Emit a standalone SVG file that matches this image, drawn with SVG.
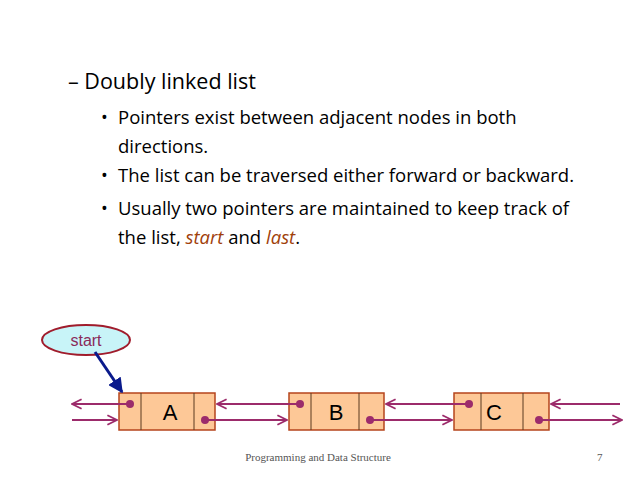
<svg xmlns="http://www.w3.org/2000/svg" width="638" height="478" viewBox="0 0 638 478">
<style>
.t{font-family:"Open Sans","Liberation Sans",sans-serif;fill:#000}
.b{font-size:18.5px}
.box{fill:#fdc897;stroke:#b5441c;stroke-width:1.5}
.div{stroke:#5a3a20;stroke-width:1}
.ln{stroke:#9c2b6b;stroke-width:2;fill:none}
.lbl{font-family:"Liberation Sans",Arial,sans-serif;font-size:22px;text-anchor:middle}
</style>
<defs>
<marker id="oa" viewBox="0 0 10 10" refX="9" refY="5" markerWidth="6" markerHeight="6" orient="auto-start-reverse"><path d="M1,1 L9,5 L1,9" fill="none" stroke="#9c2b6b" stroke-width="1.5"/></marker>
<marker id="dot" viewBox="0 0 10 10" refX="5" refY="5" markerWidth="4" markerHeight="4"><circle cx="5" cy="5" r="5" fill="#9c2b6b"/></marker>
<marker id="ba" viewBox="0 0 10 10" refX="9" refY="5" markerWidth="5" markerHeight="5" orient="auto"><path d="M0,0 L10,5 L0,10z" fill="#0a1a8c"/></marker>
</defs>
<text class="t" x="68" y="89" font-size="21.5">– Doubly linked list</text>
<g class="t b">
<text x="101" y="124" font-size="18">•</text><text x="118" y="124">Pointers exist between adjacent nodes in both</text>
<text x="118" y="153">directions.</text>
<text x="101" y="182" font-size="18">•</text><text x="118" y="182">The list can be traversed either forward or backward.</text>
<text x="101" y="215" font-size="18">•</text><text x="118" y="215">Usually two pointers are maintained to keep track of</text>
<text x="118" y="244">the list, <tspan fill="#a0400a" font-style="italic">start</tspan> and <tspan fill="#a0400a" font-style="italic">last</tspan>.</text>
</g>
<g id="start"><ellipse cx="86" cy="340" rx="44" ry="15" fill="#c8f4f8" stroke="#a01c2c" stroke-width="2"/><text x="86" y="346" font-family="Liberation Sans,sans-serif" font-size="16" fill="#8a2a5a" text-anchor="middle">start</text></g>
<g id="nodeA"><rect class="box" x="119" y="393" width="96" height="37"/><line class="div" x1="141" y1="393" x2="141" y2="430"/><line class="div" x1="194" y1="393" x2="194" y2="430"/><text class="lbl" x="170" y="420">A</text></g>
<g id="nodeB"><rect class="box" x="289" y="393" width="95" height="37"/><line class="div" x1="311" y1="393" x2="311" y2="430"/><line class="div" x1="359" y1="393" x2="359" y2="430"/><text class="lbl" x="336" y="420">B</text></g>
<g id="nodeC"><rect class="box" x="454" y="393" width="95" height="37"/><line class="div" x1="481" y1="393" x2="481" y2="430"/><line class="div" x1="523" y1="393" x2="523" y2="430"/><text class="lbl" x="494" y="420">C</text></g>
<g id="connectors">
<line x1="95" y1="352" x2="122" y2="392" stroke="#0a1a8c" stroke-width="3" marker-end="url(#ba)"/>
<line class="ln" x1="130" y1="404" x2="72" y2="404" marker-start="url(#dot)" marker-end="url(#oa)"/>
<line class="ln" x1="72" y1="420" x2="117" y2="420" marker-end="url(#oa)"/>
<line class="ln" x1="300" y1="404" x2="217" y2="404" marker-start="url(#dot)" marker-end="url(#oa)"/>
<line class="ln" x1="205" y1="420" x2="287" y2="420" marker-start="url(#dot)" marker-end="url(#oa)"/>
<line class="ln" x1="469" y1="404" x2="386" y2="404" marker-start="url(#dot)" marker-end="url(#oa)"/>
<line class="ln" x1="370" y1="420" x2="452" y2="420" marker-start="url(#dot)" marker-end="url(#oa)"/>
<line class="ln" x1="620" y1="404" x2="551" y2="404" marker-end="url(#oa)"/>
<line class="ln" x1="539" y1="420" x2="622" y2="420" marker-start="url(#dot)" marker-end="url(#oa)"/>
</g>
<text x="318" y="461" font-family="Liberation Serif,serif" font-size="11" fill="#555" text-anchor="middle">Programming and Data Structure</text>
<text x="597" y="461" font-family="Liberation Serif,serif" font-size="11" fill="#555">7</text>
</svg>
